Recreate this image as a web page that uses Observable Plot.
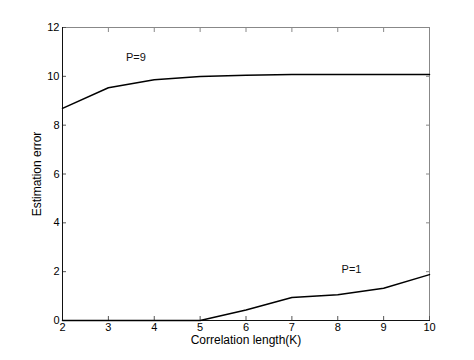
<!DOCTYPE html>
<html>
<head>
<meta charset="utf-8">
<script src="https://cdn.jsdelivr.net/npm/d3@7"></script>
<script src="https://cdn.jsdelivr.net/npm/@observablehq/plot@0.6"></script>
<style>
  body { margin: 0; background: #fff; }
  svg { font-family: "Liberation Sans", Arial, sans-serif; }
</style>
</head>
<body>
<div id="chart"></div>
<script>
const K = [2, 3, 4, 5, 6, 7, 8, 9, 10];
const errP9 = [8.69, 9.53, 9.86, 9.99, 10.04, 10.07, 10.08, 10.08, 10.08];
const errP1 = [0, 0, 0, 0, 0.43, 0.94, 1.05, 1.32, 1.88];
const seriesNames = ["P=9", "P=1"];
const labelPos = [{x: 3.6, y: 10.78, text: "P=9"}, {x: 8.3, y: 2.09, text: "P=1"}];
const xTicks = [2, 3, 4, 5, 6, 7, 8, 9, 10];
const yTicks = [0, 2, 4, 6, 8, 10, 12];

const rows = [];
K.forEach((k, i) => rows.push({k, v: errP9[i], s: seriesNames[0]}));
K.forEach((k, i) => rows.push({k, v: errP1[i], s: seriesNames[1]}));

const chart = Plot.plot({
  width: 474,
  height: 360,
  marginLeft: 62,
  marginRight: 45,
  marginTop: 27,
  marginBottom: 40,
  style: {fontFamily: "Liberation Sans, Arial, sans-serif", fontSize: "11px", background: "#fff"},
  x: {domain: [2, 10]},
  y: {domain: [0, 12]},
  marks: [
    Plot.frame({anchor: "top", stroke: "#888"}),
    Plot.frame({anchor: "right", stroke: "#888"}),
    Plot.axisX({ticks: xTicks, tickSize: -4, tickPadding: 7, tickFormat: d => String(d), label: null, fontSize: 11, stroke: "#555"}),
    Plot.axisX({anchor: "top", ticks: xTicks, tickSize: -4, tickFormat: () => "", label: null, stroke: "#888"}),
    Plot.axisY({ticks: yTicks, tickSize: -4, tickPadding: 7, tickFormat: d => String(d), label: null, fontSize: 11, stroke: "#555"}),
    Plot.axisY({anchor: "right", ticks: yTicks, tickSize: -4, tickFormat: () => "", label: null, stroke: "#888"}),
    Plot.axisX({ticks: [], label: "Correlation length(K)", labelAnchor: "center", labelArrow: "none", labelOffset: 23, fontSize: 12, tickSize: 0}),
    Plot.axisY({ticks: [], label: "Estimation error", labelAnchor: "center", labelArrow: "none", labelOffset: 30, fontSize: 12, tickSize: 0}),
    Plot.frame({anchor: "bottom", stroke: "#111"}),
    Plot.frame({anchor: "left", stroke: "#111"}),
    Plot.line(rows, {x: "k", y: "v", z: "s", stroke: "#000", strokeWidth: 1.5}),
    Plot.text(labelPos, {x: "x", y: "y", text: "text", fontSize: 11, fill: "#111"})
  ]
});
document.getElementById("chart").appendChild(chart);
</script>
</body>
</html>
